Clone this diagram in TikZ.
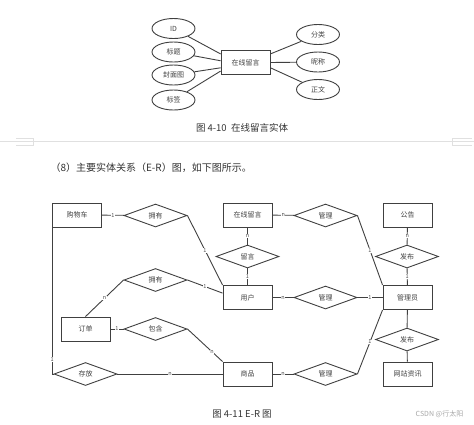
\documentclass[tikz,border=0pt]{standalone}
\usepackage{fontspec}
\setmainfont{Noto Sans CJK SC}
\usetikzlibrary{shapes.geometric}

\tikzset{
  ent/.style={draw=black!75, line width=0.9pt, rectangle, minimum width=49pt, minimum height=24pt, inner sep=0pt, text=black!75, font=\fontsize{7}{8}\selectfont},
  rel/.style={draw=black!75, line width=0.9pt, diamond, aspect=2.7, minimum width=63pt, minimum height=23pt, inner sep=0pt, text=black!75, font=\fontsize{7}{8}\selectfont},
  attr/.style={draw=black!75, line width=0.9pt, ellipse, minimum width=43pt, minimum height=20pt, inner sep=0pt, text=black!75, font=\fontsize{7}{8}\selectfont},
  card/.style={fill=white, inner sep=0.5pt, text=black!70, font=\fontsize{5.5}{6}\selectfont},
  link/.style={draw=black!75, line width=0.9pt},
  capt/.style={text=black!80, font=\fontsize{9.5}{10}\selectfont},
}

\begin{document}
\begin{tikzpicture}[x=1pt, y=-1pt]
\useasboundingbox (0,0) rectangle (474,424);

% entity: online message
\node[ent] (msg) at (245.5,62.5) {在线留言};
\node[attr] (id) at (173.5,28.5) {ID};
\node[attr] (title) at (173.5,52) {标题};
\node[attr] (cover) at (173.5,75) {封面图};
\node[attr] (tag) at (173.5,100) {标签};
\node[attr] (cls) at (318,34.5) {分类};
\node[attr] (nick) at (318,62) {昵称};
\node[attr] (body) at (318,89.5) {正文};

\draw[link] (msg.161) -- (id);
\draw[link] (msg.176) -- (title);
\draw[link] (msg.192) -- (cover);
\draw[link] (msg.199) -- (tag);
\draw[link] (msg.19) -- (cls);
\draw[link] (msg.0) -- (nick);
\draw[link] (msg.348) -- (body);

\node[capt] (cap1) at (242,128) {图 4-10\ \ 在线留言实体};

% page break
\draw[black!12, line width=0.6pt] (0,141) -- (474,141);
\draw[black!12, line width=0.5pt] (16,138) -- (33,138) -- (33,145) -- (16,145);
\draw[black!12, line width=0.5pt] (472,138) -- (452,138) -- (452,145) -- (472,145);

\node[capt, anchor=west, font=\fontsize{10}{11}\selectfont] (intro) at (47,168) {（8）主要实体关系（E-R）图，如下图所示。};

% entities
\node[ent] (cart) at (77,215) {购物车};
\node[ent] (online) at (247.5,215) {在线留言};
\node[ent] (notice) at (407.5,215) {公告};
\node[ent] (user) at (247.5,297.5) {用户};
\node[ent] (admin) at (407.5,297.5) {管理员};
\node[ent] (order) at (85.5,329) {订单};
\node[ent] (goods) at (247.5,374) {商品};
\node[ent] (news) at (407.5,374) {网站资讯};

% relations
\node[rel] (own1) at (155.5,215.5) {拥有};
\node[rel] (mng1) at (325.5,215.5) {管理};
\node[rel] (post) at (247.5,256.5) {留言};
\node[rel] (pub1) at (407,256.5) {发布};
\node[rel] (own2) at (155.5,280) {拥有};
\node[rel] (mng2) at (325.5,297.5) {管理};
\node[rel] (incl) at (155.5,329) {包含};
\node[rel] (pub2) at (407,339.5) {发布};
\node[rel] (store) at (85.5,374) {存放};
\node[rel] (mng3) at (325.5,374) {管理};

% connectors
\draw[link] (cart) -- node[card] {1} (own1);
\draw[link] (own1.east) -- node[card] {1} (user.north west);
\draw[link] (online) -- node[card] {n} (mng1);
\draw[link] (mng1.east) -- node[card] {1} (admin.north west);
\draw[link] (online) -- node[card] {n} (post);
\draw[link] (post) -- node[card] {1} (user);
\draw[link] (notice) -- node[card] {n} (pub1);
\draw[link] (pub1) -- node[card] {1} (admin);
\draw[link] (own2.east) -- node[card] {1} (user.170);
\draw[link] (order.north) -- node[card] {n} (own2.west);
\draw[link] (user) -- node[card] {n} (mng2);
\draw[link] (mng2) -- node[card] {1} (admin);
\draw[link] (order) -- node[card] {1} (incl);
\draw[link] (incl.east) -- node[card, pos=0.7] {n} (goods.north west);
\draw[link] (admin) -- (pub2);
\draw[link] (pub2) -- (news);
\draw[link] (cart.south west) |- node[card, pos=0.45] {1} (store.west);
\draw[link] (store) -- node[card] {n} (goods);
\draw[link] (goods) -- node[card] {n} (mng3);
\draw[link] (mng3.east) -- node[card] {1} (admin.south west);

\node[capt] (cap2) at (242,414) {图 4-11 E-R 图};
\node[text=black!35, font=\fontsize{7}{8}\selectfont] (mark) at (439.5,414) {CSDN @行太阳};

\end{tikzpicture}
\end{document}
